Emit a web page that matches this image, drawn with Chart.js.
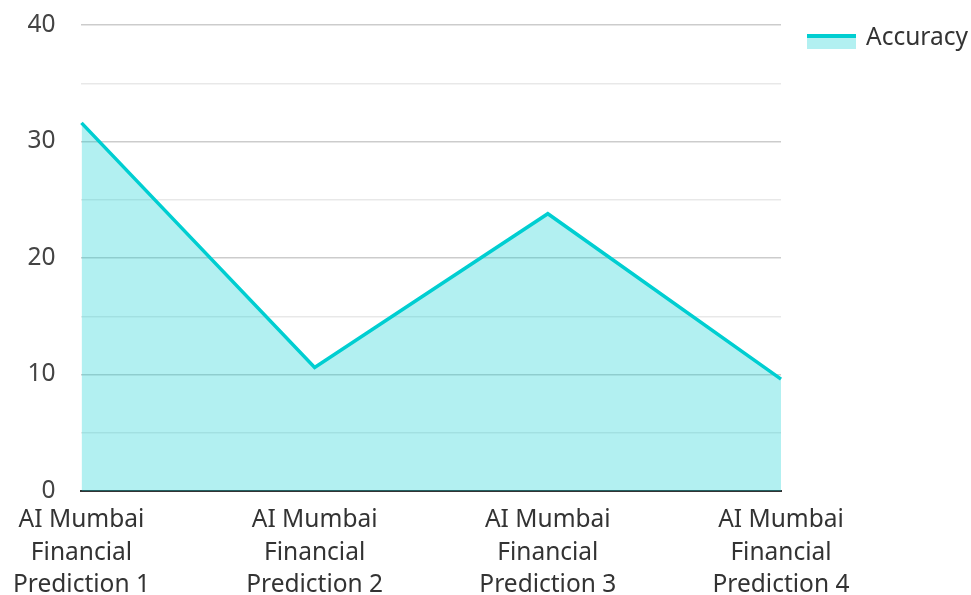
<!DOCTYPE html>
<html lang="en">
<head>
    <meta charset="UTF-8">
    <title>Accuracy</title>
    <script src="https://cdn.jsdelivr.net/npm/chart.js"></script>
    <style>
        body { margin: 0; background: #fff; }
        .wrap { width: 971px; height: 595px; }
    </style>
</head>
<body>
    <div class="wrap"><canvas id="accChart"></canvas></div>

    <script>
        const categories = [
            ['AI Mumbai', 'Financial', 'Prediction 1'],
            ['AI Mumbai', 'Financial', 'Prediction 2'],
            ['AI Mumbai', 'Financial', 'Prediction 3'],
            ['AI Mumbai', 'Financial', 'Prediction 4']
        ];
        const accuracy = [31.6, 10.6, 23.8, 9.6];
        const yTicks = [0, 10, 20, 30, 40];
        const seriesName = 'Accuracy';

        const lineColor = '#00CED1';
        const fillColor = 'rgba(0, 206, 209, 0.3)';
        const fontFamily = '"Noto Sans", sans-serif';
        const fontSize = 24.5;

        // legend drawn by hand: line on top of a filled swatch, to the right of the plot
        const sideLegend = {
            id: 'sideLegend',
            afterDraw(chart) {
                const ctx = chart.ctx;
                const area = chart.chartArea;
                const x = area.right + 26;
                const y = area.top + 9;
                ctx.save();
                ctx.fillStyle = fillColor;
                ctx.fillRect(x, y, 49, 15);
                ctx.fillStyle = lineColor;
                ctx.fillRect(x, y, 49, 4);
                ctx.fillStyle = '#333';
                ctx.font = fontSize + 'px ' + fontFamily;
                ctx.textBaseline = 'middle';
                ctx.textAlign = 'left';
                ctx.fillText(seriesName, x + 59, y + 4);
                ctx.restore();
            }
        };

        const ctx = document.getElementById('accChart').getContext('2d');
        new Chart(ctx, {
            type: 'line',
            data: {
                labels: categories,
                datasets: [{
                    label: seriesName,
                    data: accuracy,
                    borderColor: lineColor,
                    backgroundColor: fillColor,
                    borderWidth: 3.5,
                    fill: 'origin',
                    tension: 0,
                    pointRadius: 0,
                    pointHoverRadius: 0
                }]
            },
            options: {
                responsive: true,
                maintainAspectRatio: false,
                animation: false,
                layout: { padding: { top: 25, right: 190, left: 0, bottom: 0 } },
                plugins: {
                    tooltip: { enabled: false },
                    legend: { display: false }
                },
                scales: {
                    x: {
                        offset: false,
                        grid: { display: false, drawTicks: false },
                        border: { display: true, color: '#333', width: 2 },
                        ticks: {
                            color: '#333',
                            padding: 13,
                            maxRotation: 0,
                            autoSkip: false,
                            font: { family: fontFamily, size: fontSize, lineHeight: 1.33 }
                        },
                        afterFit: (scale) => { scale.height = 104; }
                    },
                    y: {
                        min: 0,
                        max: 40,
                        grid: {
                            drawTicks: true,
                            tickLength: 23,
                            tickColor: 'rgba(0,0,0,0)',
                            lineWidth: 1.5,
                            color: (c) => yTicks.includes(c.tick.value) ? 'rgba(0,0,0,0.2)' : 'rgba(0,0,0,0.09)'
                        },
                        border: { display: false },
                        ticks: {
                            stepSize: 5,
                            padding: 3,
                            color: '#444',
                            font: { family: fontFamily, size: fontSize },
                            callback: (v) => yTicks.includes(v) ? v : ''
                        },
                        afterFit: (scale) => { scale.width = 79; }
                    }
                }
            },
            plugins: [sideLegend]
        });
    </script>
</body>
</html>
